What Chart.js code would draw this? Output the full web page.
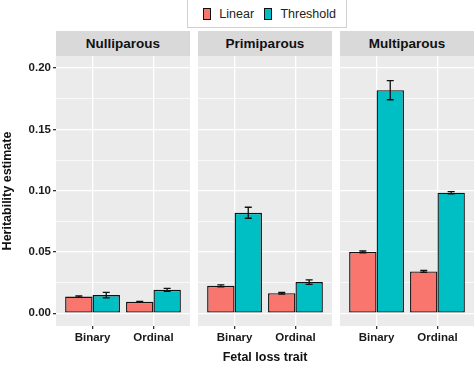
<!DOCTYPE html>
<html lang="en">
  <head>
    <meta charset="UTF-8" />
    <title>Heritability estimate by parity</title>
    <script src="https://cdn.jsdelivr.net/npm/chart.js@4.4.1/dist/chart.umd.min.js"></script>
    <style>
      body {
        margin: 0;
        background: #fff;
        font-family: "Liberation Sans", Arial, sans-serif;
      }
      #wrap {
        position: relative;
        width: 474px;
        height: 369px;
        overflow: hidden;
      }
      canvas {
        position: absolute;
        top: 56px;
      }
      .strip {
        position: absolute;
        top: 31px;
        width: 134px;
        height: 25px;
        line-height: 25px;
        background: #d9d9d9;
        text-align: center;
        font-weight: bold;
        font-size: 13.5px;
        color: #111;
      }
      #legend {
        position: absolute;
        left: 187px;
        top: -6px;
        width: 143px;
        height: 26px;
        padding: 6px 0 0 15px;
        border: 1px solid #d0d0d0;
        background: #fff;
        display: flex;
        align-items: center;
        font-size: 12.5px;
        color: #222;
      }
      .swatch {
        width: 10px;
        height: 10px;
        border: 1px solid #111;
      }
      .key {
        margin-left: 8px;
        margin-right: 10px;
      }
    </style>
  </head>
  <body>
    <div id="wrap">
      <div id="legend"></div>
      <div class="strip" style="left: 56px"></div>
      <div class="strip" style="left: 198px"></div>
      <div class="strip" style="left: 340px"></div>
      <canvas id="panel0" width="190" height="313" style="left: 0px"></canvas>
      <canvas id="panel1" width="134" height="313" style="left: 198px"></canvas>
      <canvas id="panel2" width="134" height="313" style="left: 340px"></canvas>
    </div>

    <script>
      // facets, x categories and series
      const panels = ["Nulliparous", "Primiparous", "Multiparous"];
      const categories = ["Binary", "Ordinal"];
      const seriesNames = ["Linear", "Threshold"];
      const seriesColors = ["#F8766D", "#00BFC4"];

      // values per panel: [Binary, Ordinal]
      const linearValues = [[0.0136, 0.0093], [0.0224, 0.0164], [0.05, 0.0341]];
      const thresholdValues = [[0.0148, 0.0191], [0.082, 0.0254], [0.182, 0.0984]];
      const linearErrors = [[0.0006, 0.0004], [0.0008, 0.0007], [0.0008, 0.0008]];
      const thresholdErrors = [[0.0022, 0.0012], [0.0045, 0.0018], [0.0078, 0.0009]];

      const yMin = -0.0104;
      const yMax = 0.2099;
      const yStep = 0.025;
      const yLabelStep = 0.05;

      Chart.defaults.font.family = '"Liberation Sans", Arial, sans-serif';

      // legend + strip labels
      const legend = document.getElementById("legend");
      seriesNames.forEach((name, i) => {
        const sw = document.createElement("span");
        sw.className = "swatch";
        sw.style.background = seriesColors[i];
        const txt = document.createElement("span");
        txt.className = "key";
        txt.textContent = name;
        legend.appendChild(sw);
        legend.appendChild(txt);
      });
      document.querySelectorAll(".strip").forEach((el, i) => {
        el.textContent = panels[i];
      });

      const isMajor = (v) => Math.abs(v / yLabelStep - Math.round(v / yLabelStep)) < 1e-6;

      const panelBg = {
        id: "panelBg",
        beforeDraw(chart) {
          const a = chart.chartArea;
          const ctx = chart.ctx;
          ctx.save();
          ctx.fillStyle = "#EBEBEB";
          ctx.fillRect(a.left, a.top, a.right - a.left, a.bottom - a.top);
          ctx.restore();
        },
      };

      const errorBars = {
        id: "errorBars",
        afterDatasetsDraw(chart) {
          const ctx = chart.ctx;
          const y = chart.scales.y;
          ctx.save();
          ctx.strokeStyle = "#111";
          ctx.lineWidth = 1.3;
          chart.data.datasets.forEach((ds, di) => {
            chart.getDatasetMeta(di).data.forEach((bar, i) => {
              const v = ds.data[i].y;
              const e = ds.errors[i];
              const top = y.getPixelForValue(v + e);
              const bot = y.getPixelForValue(v - e);
              ctx.beginPath();
              ctx.moveTo(bar.x, top);
              ctx.lineTo(bar.x, bot);
              ctx.moveTo(bar.x - 3.5, top);
              ctx.lineTo(bar.x + 3.5, top);
              ctx.moveTo(bar.x - 3.5, bot);
              ctx.lineTo(bar.x + 3.5, bot);
              ctx.stroke();
            });
          });
          ctx.restore();
        },
      };

      function makeChart(p) {
        const first = p === 0;
        const middle = p === 1;
        const series = [
          { values: linearValues[p], errors: linearErrors[p] },
          { values: thresholdValues[p], errors: thresholdErrors[p] },
        ];
        return new Chart(document.getElementById("panel" + p), {
          type: "bar",
          data: {
            datasets: series.map((s, k) => ({
              label: seriesNames[k],
              data: categories.map((c, j) => ({ x: j + 1, y: s.values[j] })),
              errors: s.errors,
              backgroundColor: seriesColors[k],
              borderColor: "#111",
              borderWidth: 1.4,
              borderSkipped: false,
              categoryPercentage: 0.9,
              barPercentage: 1,
            })),
          },
          options: {
            responsive: false,
            animation: false,
            layout: { padding: 0 },
            plugins: {
              legend: { display: false },
              tooltip: { enabled: false },
            },
            scales: {
              x: {
                type: "linear",
                offset: false,
                min: 0.4,
                max: categories.length + 0.6,
                afterBuildTicks: (s) => {
                  s.ticks = categories.map((c, j) => ({ value: j + 1 }));
                },
                ticks: {
                  callback: (v) => categories[Math.round(v) - 1],
                  autoSkip: false,
                  maxRotation: 0,
                  padding: 2,
                  color: "#1a1a1a",
                  font: { size: 11.5, weight: "bold" },
                },
                grid: {
                  offset: false,
                  color: "#fff",
                  lineWidth: 1.3,
                  tickColor: "#333",
                  tickLength: 3,
                },
                border: { display: false },
                title: {
                  display: middle,
                  text: "Fetal loss trait",
                  color: "#111",
                  font: { size: 12.5, weight: "bold" },
                  padding: { top: 4, bottom: 4 },
                },
                afterFit: (s) => {
                  s.height = 43;
                  s.paddingLeft = 0;
                  s.paddingRight = 0;
                },
              },
              y: {
                min: yMin,
                max: yMax,
                ticks: {
                  display: first,
                  stepSize: yStep,
                  includeBounds: false,
                  callback: (v) => (isMajor(v) ? v.toFixed(2) : ""),
                  padding: 2,
                  color: "#1a1a1a",
                  font: { size: 11.5, weight: "bold" },
                },
                grid: {
                  color: "#fff",
                  lineWidth: (c) => (isMajor(c.tick.value) ? 1.3 : 0.7),
                  drawTicks: first,
                  tickLength: 3,
                  tickColor: (c) => (isMajor(c.tick.value) ? "#333" : "rgba(0,0,0,0)"),
                },
                border: { display: false },
                title: {
                  display: first,
                  text: "Heritability estimate",
                  color: "#111",
                  font: { size: 12.5, weight: "bold" },
                  padding: 0,
                },
                afterFit: (s) => {
                  s.width = first ? 56 : 0;
                  s.paddingTop = 0;
                  s.paddingBottom = 0;
                },
              },
            },
          },
          plugins: [panelBg, errorBars],
        });
      }

      panels.forEach((name, p) => makeChart(p));
    </script>
  </body>
</html>
